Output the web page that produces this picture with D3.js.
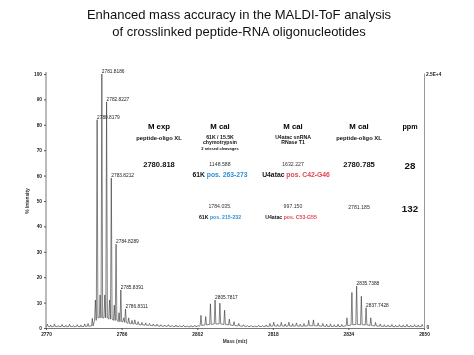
<!DOCTYPE html>
<html><head><meta charset="utf-8">
<script src="https://cdn.jsdelivr.net/npm/d3@7"></script>
<style>body{margin:0;background:#fff}svg{display:block;font-family:"Liberation Sans",Arial,sans-serif;will-change:transform}</style>
</head><body><div id="c"></div>
<script>
// ---- data ----
const titleLines = ["Enhanced mass accuracy in the MALDI-ToF analysis", "of crosslinked peptide-RNA oligonucleotides"];
const xTicks = [2770, 2786, 2802, 2818, 2834, 2850];
const yTicks = [0, 10, 20, 30, 40, 50, 60, 70, 80, 90, 100];
// peak centroids (m/z), relative intensity (%), local floor level (%)
const peakMass = [2770.3,2771.0,2771.8,2772.6,2773.4,2774.2,2775.0,2775.8,2776.6,2777.4,2778.2,2778.9,2779.8,
  2780.45,2780.8179,2781.45,2781.8186,2782.45,2782.8227,2783.45,2783.8212,2784.45,2784.8289,2785.45,2785.8391,2786.45,2786.8311,
  2787.5,2788.2,2788.8,2789.5,2790.3,2791.1,2791.9,2792.7,2793.5,2794.3,2795.1,2795.9,2796.7,2797.5,2798.3,2799.1,2799.9,2800.7,2801.5,2802.2,
  2802.8,2803.8,2804.8,2805.7817,2806.8,2807.8,2808.8,2809.8,2810.8,2811.8,2812.6,2813.4,2814.2,2815.0,2815.8,2816.6,2817.4,2818.2,2819.0,2819.8,
  2820.6,2821.4,2822.2,2823.0,2823.8,2824.6,2825.6,2826.6,2827.6,2828.6,2829.4,2830.2,2831.0,2831.8,2832.6,
  2833.7,2834.74,2835.7388,2836.74,2837.7428,2838.74,2839.74,2840.74,2841.6,2842.4,2843.2,2844.0,2844.8,2845.6,2846.4,2847.2,2848.0,2848.8,2849.6];
const peakInt = [1.5,1.2,1.6,1.0,1.4,1.1,1.5,1.0,1.3,1.2,1.6,1.8,3.8,
  11,82,13,100,13,89,11,59,9,33,6,15,4,7.5,
  4,3,3.2,2.5,2.2,2.0,1.8,1.6,1.5,1.3,1.2,1.3,1.0,1.2,1.0,1.1,0.9,1.0,1.1,1.0,
  5,4.5,9.5,11,9.8,7,3.5,2.5,1.8,1.3,1.0,1.0,0.9,1.1,1.0,1.2,1.8,2.3,1.5,2.2,
  1.6,2.3,1.7,2.0,1.5,1.8,3.0,3.2,2.0,1.8,1.5,1.6,1.3,1.5,1.4,
  4,14,16.5,12.5,8,4,2.2,1.6,1.3,1.2,1.4,1.1,1.3,1.2,1.4,1.1,1.3,1.2,1.4];
const peakFloor = [0.6,0.5,0.6,0.5,0.6,0.5,0.6,0.5,0.6,0.5,0.6,0.7,0.8,
  3,4,4,4,4,4,3.5,3.5,3,3,2.5,2.5,2.5,2.2,
  1.8,1.6,1.6,1.4,1.2,1.1,1.0,0.9,0.8,0.7,0.7,0.7,0.6,0.6,0.6,0.6,0.5,0.5,0.6,0.6,
  1.0,1.2,1.4,1.6,1.6,1.4,1.2,1.0,0.8,0.7,0.6,0.6,0.5,0.6,0.6,0.6,0.7,0.8,0.7,0.8,
  0.7,0.8,0.7,0.8,0.7,0.7,0.9,0.9,0.8,0.7,0.6,0.6,0.6,0.6,0.6,
  0.9,1.2,1.4,1.3,1.2,1.0,0.8,0.7,0.6,0.6,0.6,0.5,0.6,0.5,0.6,0.5,0.6,0.5,0.6];
const labelMass = [2781.8186, 2782.8227, 2780.8179, 2783.8212, 2784.8289, 2785.8391, 2786.8311, 2805.7817, 2835.7388, 2837.7428];
const labelInt = [100, 89, 82, 59, 33, 15, 7.5, 11, 16.5, 8];
// table
const tableHeaders = ["M exp", "M cal", "M cal", "M cal", "ppm"];
const rowMexp = ["2780.818", ""];
const rowCal1 = ["1148.588", "1784.035."];
const rowCal2 = ["1632.227", "997.150"];
const rowCalXL = ["2780.785", "2781.185"];
const rowPpm = ["28", "132"];
const pos61K = ["pos. 263-273", "pos. 215-232"];
const posU4 = ["pos. C42-G46", "pos. C53-G55"];

// ---- layout ----
const W = 474, H = 355;
const svg = d3.select("#c").append("svg").attr("width", W).attr("height", H);
const x = d3.scaleLinear().domain([2770, 2850]).range([46, 424]);
const y = d3.scaleLinear().domain([0, 100]).range([328, 74]);

// title
svg.selectAll("text.title").data(titleLines).join("text").attr("class", "title")
  .attr("x", 239).attr("y", (d, i) => 19 + i * 17)
  .attr("text-anchor", "middle").attr("font-size", 13).attr("fill", "#111").text(d => d);

// axes
const gy = svg.append("g").attr("transform", "translate(46,0)")
  .call(d3.axisLeft(y).tickValues(yTicks).tickSize(2).tickPadding(2));
gy.select(".domain").attr("stroke", "#777").attr("d", `M0,${y(0)}V72`);
gy.selectAll(".tick line").attr("stroke", "#555");
gy.selectAll(".tick text").attr("font-size", 4.8).attr("font-weight", "bold").attr("fill", "#222")
  .attr("font-family", "Liberation Sans, Arial, sans-serif");

const gx = svg.append("g").attr("transform", `translate(0,${y(0)})`)
  .call(d3.axisBottom(x).tickValues(xTicks).tickFormat(d3.format("d")).tickSize(2).tickPadding(2.2));
gx.select(".domain").attr("stroke", "#777");
gx.selectAll(".tick line").attr("stroke", "#555");
gx.selectAll(".tick text").attr("font-size", 4.8).attr("font-weight", "bold").attr("fill", "#222")
  .attr("font-family", "Liberation Sans, Arial, sans-serif");

// right axis
const yR = d3.scaleLinear().domain([0, 25000]).range([328, 73]);
const gr = svg.append("g").attr("transform", "translate(424,0)")
  .call(d3.axisRight(yR).tickValues([]).tickSize(0));
gr.select(".domain").attr("stroke", "#999").attr("stroke-width", 1);
svg.append("text").attr("x", 426.5).attr("y", 329.2).attr("font-size", 4.8).attr("font-weight", "bold").attr("fill", "#222").text("0");
svg.append("text").attr("x", 426).attr("y", 75.5).attr("font-size", 4.8).attr("font-weight", "bold").attr("fill", "#222").text("2.5E+4");

// axis titles
svg.append("text").attr("transform", "translate(29,201) rotate(-90)").attr("text-anchor", "middle")
  .attr("font-size", 4.8).attr("font-weight", "bold").attr("fill", "#333").text("% Intensity");
svg.append("text").attr("x", 235).attr("y", 343).attr("text-anchor", "middle")
  .attr("font-size", 4.8).attr("font-weight", "bold").attr("fill", "#333").text("Mass (m/z)");

// spectrum trace
const pts = [];
peakMass.forEach((m, i) => {
  pts.push([m - 0.17, peakFloor[i]], [m, peakInt[i]], [m + 0.17, peakFloor[i]]);
});
svg.append("path").datum(pts)
  .attr("d", d3.line().x(d => x(d[0])).y(d => y(d[1])))
  .attr("fill", "none").attr("stroke", "#333").attr("stroke-width", 0.6).attr("stroke-linejoin", "miter");

// peak labels
svg.selectAll("text.pl").data(labelMass).join("text").attr("class", "pl")
  .attr("x", d => x(d)).attr("y", (d, i) => y(labelInt[i]) - 0.8)
  .attr("font-size", 4.8).attr("fill", "#222").text(d => d.toFixed(4));

// table
const colX = [159, 220, 293, 359, 410];
const T = svg.append("g").attr("fill", "#111");
T.selectAll("text.h").data(tableHeaders).join("text").attr("class", "h")
  .attr("x", (d, i) => colX[i]).attr("y", 129).attr("text-anchor", "middle")
  .attr("fill", "#000")
  .attr("font-size", (d, i) => i === 4 ? 7.2 : 7.8).attr("font-weight", "bold").text(d => d);

function t(xp, yp, s, size, weight, fill) {
  return T.append("text").attr("x", xp).attr("y", yp).attr("text-anchor", "middle")
    .attr("font-size", size).attr("font-weight", weight || "normal").attr("fill", fill || "#111").text(s);
}
t(colX[0], 139.5, "peptide-oligo XL", 5.8, "bold");
t(colX[1], 138.6, "61K / 15.5K", 5.2, "bold");
t(colX[1], 144.3, "chymotrypsin", 5.2, "bold");
t(colX[1], 149.6, "2 missed cleavages", 4.0, "bold");
t(colX[2], 138.6, "U4atac snRNA", 5.2, "bold");
t(colX[2], 144.3, "RNase T1", 5.2, "bold");
t(colX[3], 139.5, "peptide-oligo XL", 5.8, "bold");

const rowY = [165.5, 208];
rowMexp.forEach((s, i) => { if (s) t(colX[0], 166.8, s, 7.6, "bold"); });
rowCal1.forEach((s, i) => t(colX[1], rowY[i], s, 5.2, "normal", "#333"));
rowCal2.forEach((s, i) => t(colX[2], rowY[i], s, 5.2, "normal", "#333"));
rowCalXL.forEach((s, i) => i === 0 ? t(colX[3], 166.8, s, 7.6, "bold") : t(colX[3], 208.8, s, 5.2, "normal", "#333"));
rowPpm.forEach((s, i) => t(colX[4], [168.5, 211.8][i], s, 9.8, "bold"));

const blue = "#2f8fd6", red = "#e2464f";
function mixed(xp, yp, a, b, color, size) {
  const tx = T.append("text").attr("x", xp).attr("y", yp).attr("text-anchor", "middle")
    .attr("font-size", size).attr("font-weight", "bold");
  tx.append("tspan").attr("fill", "#111").text(a + " ");
  tx.append("tspan").attr("fill", color).text(b);
}
mixed(220, 177.4, "61K", pos61K[0], blue, 6.8);
mixed(220, 219.2, "61K", pos61K[1], blue, 5.2);
mixed(296, 177.4, "U4atac", posU4[0], red, 6.8);
mixed(291, 219.2, "U4atac", posU4[1], red, 5.2);
</script></body></html>
